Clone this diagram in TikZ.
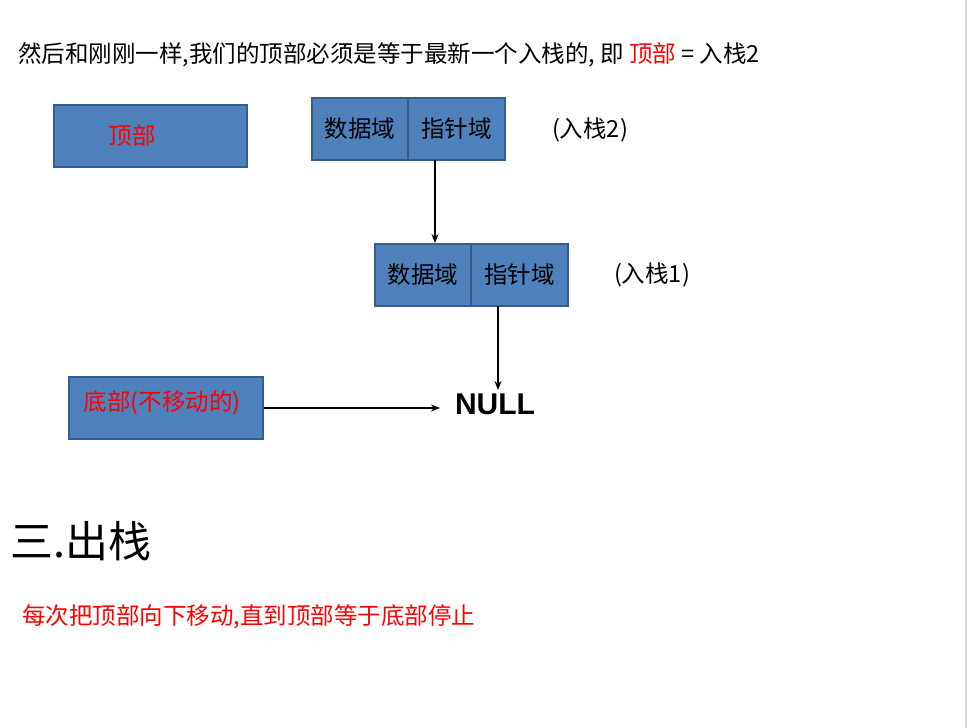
\documentclass[tikz,border=0pt]{standalone}
\usepackage{fontspec}
\setmainfont{Liberation Sans}
\newfontfamily\cjk{Noto Sans CJK SC}
\usetikzlibrary{arrows.meta}
\definecolor{bfill}{HTML}{4F81BD}
\definecolor{bdraw}{HTML}{385D8A}
\definecolor{myred}{HTML}{FF0000}
\begin{document}
\begin{tikzpicture}[x=1pt,y=-1pt,
  bx/.style={draw=bdraw,line width=2pt,fill=bfill,minimum height=62pt,inner sep=0pt},
  arr/.style={-{Stealth[length=9pt,width=7pt]},line width=1.5pt},
  t/.style={font=\cjk\fontsize{23.5}{28}\selectfont,inner sep=0pt}]
\useasboundingbox (0,0) rectangle (977,728);
\draw[gray!30,line width=1.5pt] (966,0) -- (966,728);
\node[t,anchor=west] (title) at (18,55) {然后和刚刚一样,我们的顶部必须是等于最新一个入栈的, 即 \textcolor{myred}{顶部} = 入栈2};
\node[bx,minimum width=193pt] (top) at (150.5,136) {};
\node[t,text=myred] (toptxt) at (132,136) {顶部};
\node[bx,minimum width=96pt] (d2) at (360,128.5) {};
\node[bx,minimum width=97pt] (p2) at (456.5,128.5) {};
\node[t] at (d2) {数据域};
\node[t] at (p2) {指针域};
\node[t] (l2) at (590,130) {(入栈2)};
\node[bx,minimum width=96pt] (d1) at (423,275) {};
\node[bx,minimum width=97pt] (p1) at (519.5,275) {};
\node[t] at (d1) {数据域};
\node[t] at (p1) {指针域};
\node[t] (l1) at (652,275) {(入栈1)};
\node[font=\bfseries\fontsize{30}{34}\selectfont,inner sep=0pt] (null) at (495,404) {NULL};
\node[bx,minimum width=194pt] (bot) at (166,408) {};
\node[t,text=myred] (bottxt) at (162,403) {底部(不移动的)};
\coordinate (a1) at (435,160); \coordinate (a1e) at (435,243);
\draw[arr] (a1) -- (a1e);
\coordinate (a2) at (498,306); \coordinate (a2e) at (498,390);
\draw[arr] (a2) -- (a2e);
\coordinate (a3e) at (440,408);
\draw[arr] (bot.east) -- (a3e);
\node[t,font=\cjk\fontsize{43}{48}\selectfont,anchor=west] (h) at (10,541) {三.出栈};
\node[t,text=myred,anchor=west] (sub) at (22,617) {每次把顶部向下移动,直到顶部等于底部停止};
\end{tikzpicture}
\end{document}
